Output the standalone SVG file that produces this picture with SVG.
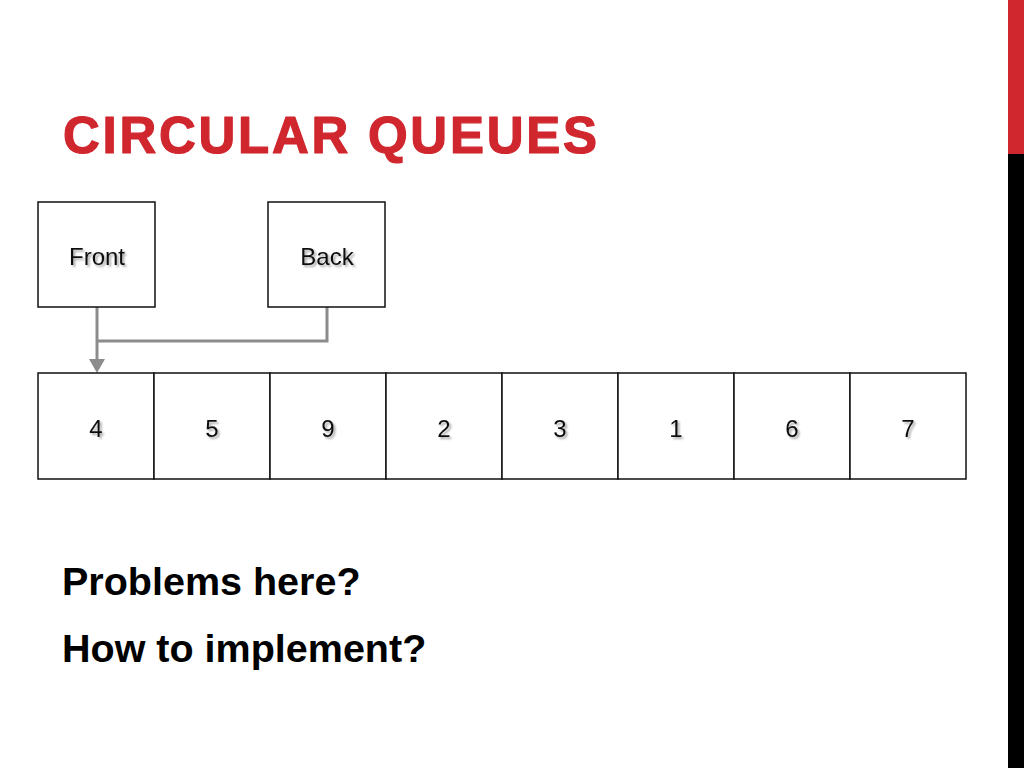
<svg xmlns="http://www.w3.org/2000/svg" width="1024" height="768" viewBox="0 0 1024 768">
<defs>
<style>
.box{fill:#ffffff;stroke:#111111;stroke-width:1.5}
.lbl{font-family:"Liberation Sans",Arial,sans-serif;font-size:24px;fill:#111111;text-anchor:middle}
.conn{fill:none;stroke:#8c8c8c;stroke-width:3}
.body{font-family:"Liberation Sans",Arial,sans-serif;font-weight:bold;font-size:39.5px;fill:#000000}
</style>
<filter id="ts" x="-20%" y="-20%" width="140%" height="140%">
<feGaussianBlur in="SourceAlpha" stdDeviation="1"/>
<feOffset dx="1.5" dy="1.5" result="b"/>
<feComponentTransfer><feFuncA type="linear" slope="0.35"/></feComponentTransfer>
<feMerge><feMergeNode/><feMergeNode in="SourceGraphic"/></feMerge>
</filter>
</defs>
<rect width="1024" height="768" fill="#ffffff"/>
<rect x="1008" y="0" width="16" height="154" fill="#d0262e"/>
<rect x="1008" y="154" width="16" height="614" fill="#000000"/>
<text x="63" y="153" font-family="Liberation Sans,Arial,sans-serif" font-weight="bold" font-size="51" fill="#d0262e" stroke="#d0262e" stroke-width="1.2" stroke-linejoin="round" textLength="534" lengthAdjust="spacing">CIRCULAR QUEUES</text>
<g id="connectors">
<polyline class="conn" points="327,307 327,341 97,341"/>
<line class="conn" x1="97" y1="307" x2="97" y2="362"/>
<polygon points="89,359 105,359 97,373" fill="#8c8c8c"/>
</g>
<g id="front"><rect class="box" x="38" y="202" width="117" height="105"/><text class="lbl" x="97" y="265" filter="url(#ts)">Front</text></g>
<g id="back"><rect class="box" x="268" y="202" width="117" height="105"/><text class="lbl" x="327" y="265" filter="url(#ts)">Back</text></g>
<g id="cell1"><rect class="box" x="38" y="373" width="116" height="106"/><text class="lbl" x="96" y="437" filter="url(#ts)">4</text></g>
<g id="cell2"><rect class="box" x="154" y="373" width="116" height="106"/><text class="lbl" x="212" y="437" filter="url(#ts)">5</text></g>
<g id="cell3"><rect class="box" x="270" y="373" width="116" height="106"/><text class="lbl" x="328" y="437" filter="url(#ts)">9</text></g>
<g id="cell4"><rect class="box" x="386" y="373" width="116" height="106"/><text class="lbl" x="444" y="437" filter="url(#ts)">2</text></g>
<g id="cell5"><rect class="box" x="502" y="373" width="116" height="106"/><text class="lbl" x="560" y="437" filter="url(#ts)">3</text></g>
<g id="cell6"><rect class="box" x="618" y="373" width="116" height="106"/><text class="lbl" x="676" y="437" filter="url(#ts)">1</text></g>
<g id="cell7"><rect class="box" x="734" y="373" width="116" height="106"/><text class="lbl" x="792" y="437" filter="url(#ts)">6</text></g>
<g id="cell8"><rect class="box" x="850" y="373" width="116" height="106"/><text class="lbl" x="908" y="437" filter="url(#ts)">7</text></g>
<text class="body" x="62" y="595">Problems here?</text>
<text class="body" x="62" y="662">How to implement?</text>
</svg>
